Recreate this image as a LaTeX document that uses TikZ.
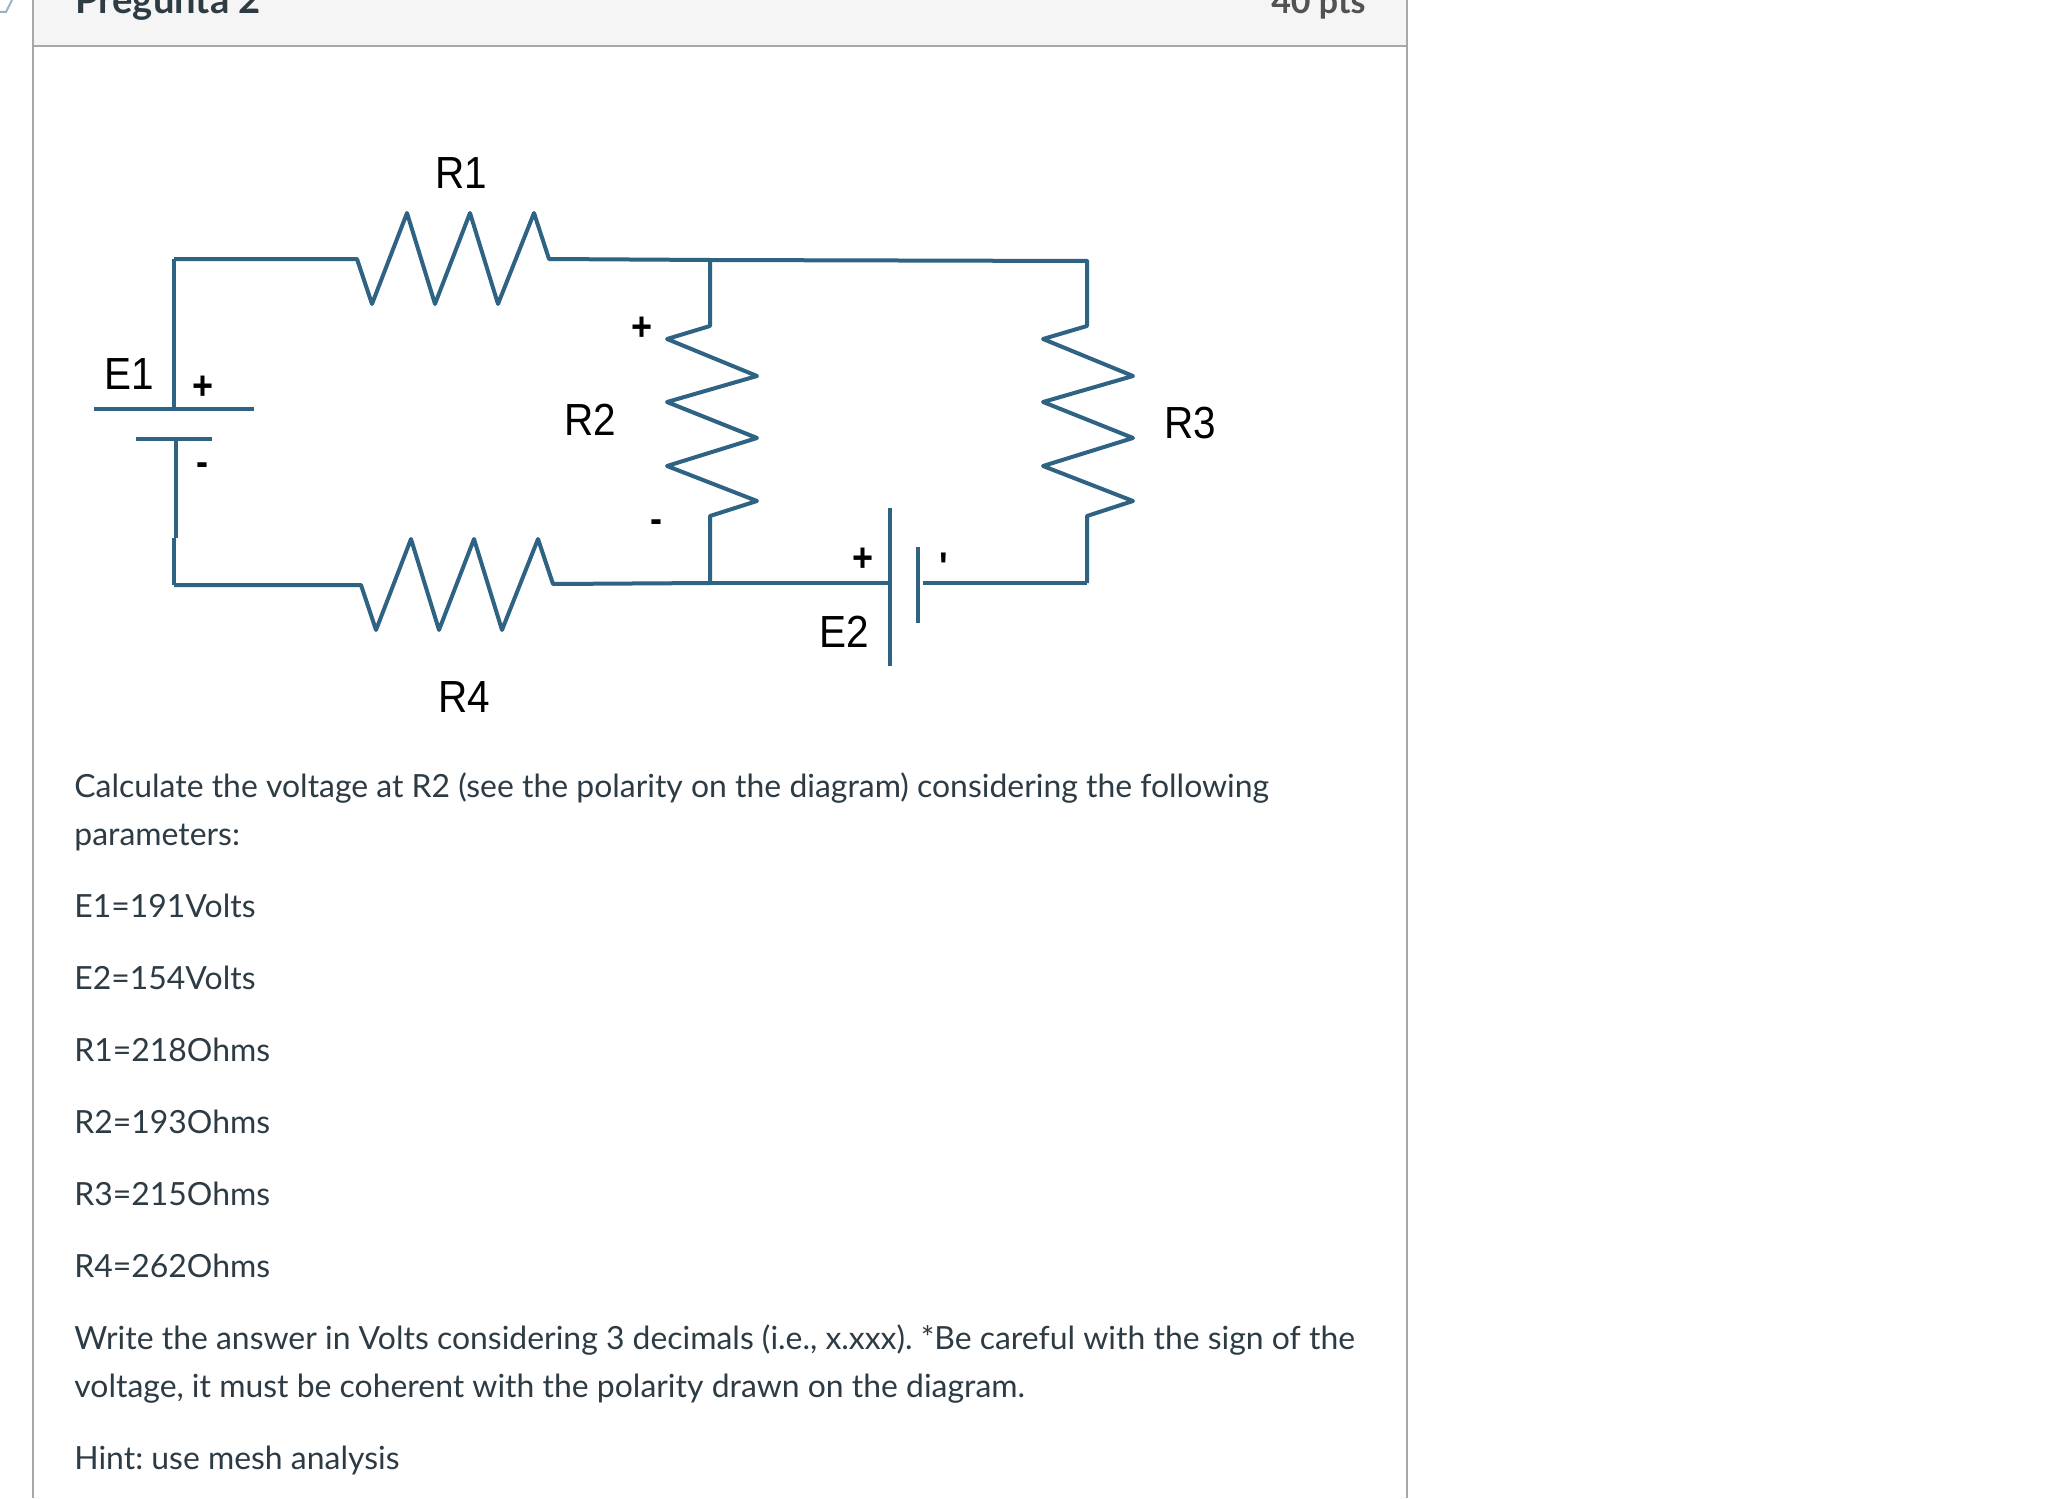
\documentclass[tikz,border=0pt]{standalone}
\usepackage{fontspec}
\setmainfont{Lato}
\newfontfamily\labelfont[FakeStretch=0.9]{Liberation Sans}
\definecolor{wirecol}{HTML}{2F6384}
\definecolor{inkcol}{HTML}{2D3B45}
\definecolor{framecol}{HTML}{A8A8A8}
\definecolor{headcol}{HTML}{F5F5F5}
\tikzset{
	wire/.style={draw=wirecol, line width=2pt, line join=round},
	plate/.style={draw=wirecol, line width=1.6pt},
	partlabel/.style={font=\labelfont\fontsize{22.5}{26}\selectfont, text=black, inner sep=0pt},
	signlabel/.style={font=\labelfont\bfseries\fontsize{20}{22}\selectfont, text=black, inner sep=0pt},
	bodytext/.style={font=\frenchspacing\fontsize{15.96}{20}\selectfont, text=inkcol, anchor=base west, inner sep=0pt}
}
\begin{document}
\begin{tikzpicture}[x=0.5pt, y=-0.5pt]
		\useasboundingbox (0,0) rectangle (2064,1498);
		\fill[white] (0,0) rectangle (2064,1498);
		% question frame
		\fill[headcol] (33,0) rectangle (1407,46);
		\draw[framecol, line width=1.2pt] (33,0) -- (33,1498);
		\draw[framecol, line width=1.2pt] (1407,0) -- (1407,1498);
		\draw[framecol, line width=1.2pt] (33,46) -- (1407,46);
		\draw[wirecol!50, line width=1pt] (0,12) -- (6,12) -- (12,0);
		\node[font=\bfseries\fontsize{19.1}{22}\selectfont, text=inkcol, anchor=base west, inner sep=0pt] (title) at (75,14) {Pregunta 2};
		\node[font=\bfseries\fontsize{17}{20}\selectfont, text=black!68, anchor=base east, inner sep=0pt] (points) at (1366,14) {40 pts};
		% corners and junctions
		\coordinate (tl) at (174,259);
		\coordinate (bl) at (174,585);
		\coordinate (tj) at (710,260);
		\coordinate (bj) at (710,583);
		\coordinate (tr) at (1087,261);
		\coordinate (br) at (1087,583);
		% E1
		\coordinate (e1p) at (174,409);
		\coordinate (e1n) at (176,439);
		\draw[plate] (94,409) -- (254,409);
		\draw[plate] (136,439) -- (212,439);
		\draw[wire] (tl) -- (e1p);
		\draw[wire] (e1n) -- (176,538);
		\draw[wire] (174,538) -- (bl);
		% R1
		\draw[wire] (tl) -- (357,259) -- (372,304) -- (407,213) -- (435,304) -- (470,213) -- (498,304) -- (534,213) -- (549,259) -- (tj);
		% R4
		\draw[wire] (bl) -- (361,585) -- (376,630) -- (411,539) -- (439,630) -- (474,539) -- (502,630) -- (538,539) -- (553,584) -- (bj);
		% R2
		\draw[wire] (tj) -- (710,326) -- (667,339) -- (757,376) -- (667,402) -- (757,438) -- (667,466) -- (757,501) -- (710,516) -- (bj);
		% R3
		\draw[wire] (tj) -- (tr) -- (1087,326) -- (1043,339) -- (1133,376) -- (1043,402) -- (1133,438) -- (1043,466) -- (1133,501) -- (1087,516) -- (br);
		% E2
		\coordinate (e2p) at (889,583);
		\coordinate (e2n) at (923,583);
		\draw[plate] (890,508) -- (890,666);
		\draw[plate] (918,547) -- (918,623);
		\draw[wire] (bj) -- (e2p);
		\draw[wire] (e2n) -- (br);
		% labels
		\node[partlabel] (r1lab) at (461,173) {R1};
		\node[partlabel] (r2lab) at (590,420) {R2};
		\node[partlabel] (r3lab) at (1190,423) {R3};
		\node[partlabel] (r4lab) at (464,697) {R4};
		\node[partlabel] (e1lab) at (129,374) {E1};
		\node[partlabel] (e2lab) at (844,632) {E2};
		\node[signlabel] (e1plus) at (203,388) {+};
		\node[signlabel] (e1minus) at (202,469) {-};
		\node[signlabel] (r2plus) at (642,329) {+};
		\node[signlabel] (r2minus) at (656,526) {-};
		\node[signlabel] (e2plus) at (863,560) {+};
		\node[signlabel] (e2minus) at (944,567) {'};
		% question text
		\node[bodytext] (line1) at (74,797) {Calculate the voltage at R2 (see the polarity on the diagram) considering the following};
		\node[bodytext] (line2) at (74,845) {parameters:};
		\node[bodytext] (pe1) at (74,917) {E1=191Volts};
		\node[bodytext] (pe2) at (74,989) {E2=154Volts};
		\node[bodytext] (pr1) at (74,1061) {R1=218Ohms};
		\node[bodytext] (pr2) at (74,1133) {R2=193Ohms};
		\node[bodytext] (pr3) at (74,1205) {R3=215Ohms};
		\node[bodytext] (pr4) at (74,1277) {R4=262Ohms};
		\node[bodytext] (line3) at (74,1349) {Write the answer in Volts considering 3 decimals (i.e., x.xxx). *Be careful with the sign of the};
		\node[bodytext] (line4) at (74,1397) {voltage, it must be coherent with the polarity drawn on the diagram.};
		\node[bodytext] (hint) at (74,1469) {Hint: use mesh analysis};
		\end{tikzpicture}
\end{document}
